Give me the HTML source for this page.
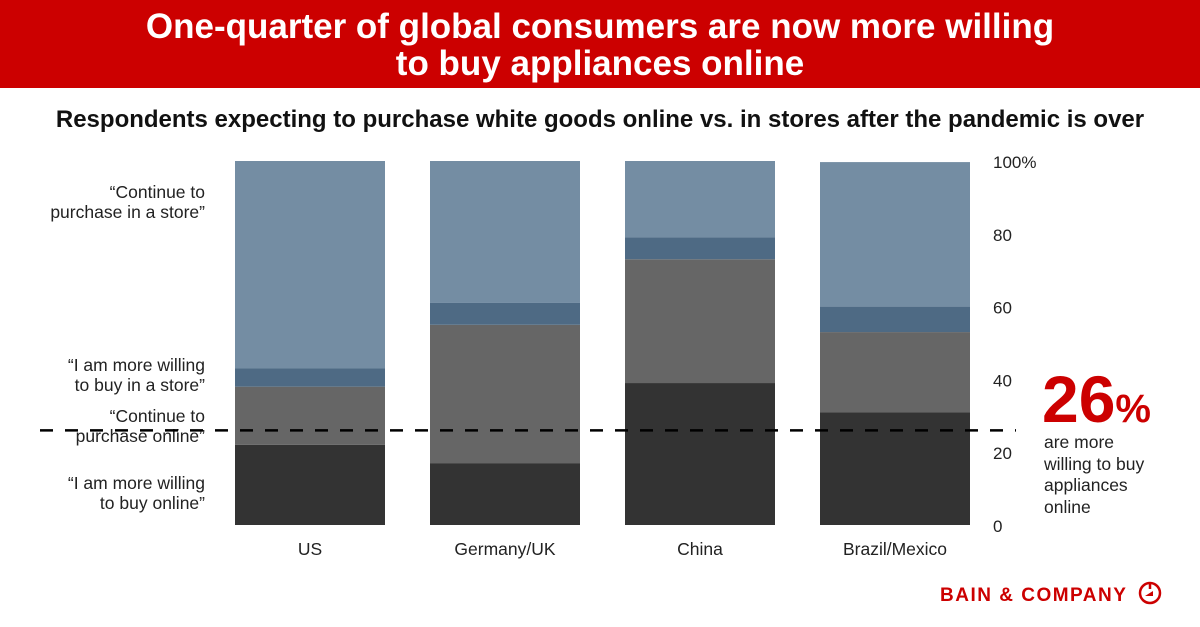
<!DOCTYPE html>
<html><head><meta charset="utf-8"><style>
body{margin:0;width:1200px;height:627px;background:#fff;font-family:"Liberation Sans",sans-serif;overflow:hidden;position:relative}
#hdr{position:absolute;left:0;top:0;width:1200px;height:88px;background:#cc0000;color:#fff;text-align:center;font-weight:bold;font-size:35px;line-height:37px;padding-top:8px;box-sizing:border-box}
#sub{position:absolute;left:0;top:106px;width:1200px;text-align:center;font-weight:bold;font-size:24px;color:#111;white-space:nowrap}
.lab{position:absolute;right:995px;text-align:right;font-size:17.5px;line-height:20px;color:#222;white-space:nowrap}
#big{position:absolute;left:1042px;top:366px;color:#cc0000;font-weight:bold;font-size:66px;line-height:66px}
#big span{font-size:40px}
#note{position:absolute;left:1044px;top:432px;font-size:17.5px;line-height:21.5px;color:#222}
#logo{position:absolute;left:940px;top:581px;color:#cc0000;font-weight:bold;font-size:19px;letter-spacing:1.5px}
</style></head><body>
<div id="hdr">One-quarter of global consumers are now more willing<br>to buy appliances online</div>
<div id="sub">Respondents expecting to purchase white goods online vs. in stores after the pandemic is over</div>
<div class="lab" style="top:182px">“Continue to<br>purchase in a store”</div>
<div class="lab" style="top:355px">“I am more willing<br>to buy in a store”</div>
<div class="lab" style="top:406px">“Continue to<br>purchase online”</div>
<div class="lab" style="top:473px">“I am more willing<br>to buy online”</div>
<svg id="chart" width="1200" height="627" style="position:absolute;left:0;top:0"></svg>
<div id="big">26<span>%</span></div>
<div id="note">are more<br>willing to buy<br>appliances<br>online</div>
<div id="logo">BAIN &amp; COMPANY <svg width="24" height="24" viewBox="0 0 24 24" style="vertical-align:-4px;margin-left:4px"><circle cx="12" cy="12" r="10" fill="none" stroke="#cc0000" stroke-width="2.5"/><line x1="12" y1="2" x2="12" y2="8" stroke="#cc0000" stroke-width="2.5"/><path d="M7 15 L15 10 L15 15Z" fill="#cc0000"/></svg></div>
<script>
const categories=["US","Germany/UK","China","Brazil/Mexico"];
const moreOnline=[22,17,39,31];
const contOnline=[16,38,34,22];
const moreStore=[5,6,6,7];
const contStore=[57,39,21,39.7];
const ticks=[0,20,40,60,80,100];
const threshold=26;
const svg=document.getElementById('chart');
const NS='http://www.w3.org/2000/svg';
const y0=525,yTop=161;
function y(v){return y0-(y0-yTop)*v/100;}
function bx(i){return 235+i*195;}
const bw=150;
const series=[moreOnline,contOnline,moreStore,contStore];
const colors=['#333333','#666666','#4e6a84','#748da3'];
const snames=['more-online','continue-online','more-store','continue-store'];
categories.forEach((c,i)=>{
  let acc=0;
  series.forEach((s,k)=>{
    const r=document.createElementNS(NS,'rect');
    r.setAttribute('x',bx(i));r.setAttribute('width',bw);
    r.setAttribute('y',y(acc+s[i]));r.setAttribute('height',y(acc)-y(acc+s[i]));
    r.setAttribute('fill',colors[k]);
    
    
    svg.appendChild(r);acc+=s[i];
  });
  const t=document.createElementNS(NS,'text');
  t.setAttribute('x',bx(i)+bw/2);t.setAttribute('y',555);t.setAttribute('text-anchor','middle');
  t.setAttribute('font-size','17.5');t.setAttribute('fill','#222');t.textContent=c;
  
  
  svg.appendChild(t);
});
ticks.forEach(v=>{
  const t=document.createElementNS(NS,'text');
  t.setAttribute('x',993);t.setAttribute('y',y(v)+7);
  t.setAttribute('font-size','17');t.setAttribute('fill','#222');t.textContent=v+(v===100?'%':'');
  
  
  svg.appendChild(t);
});
const l=document.createElementNS(NS,'line');
l.setAttribute('x1',40);l.setAttribute('x2',1016);l.setAttribute('y1',y(threshold));l.setAttribute('y2',y(threshold));
l.setAttribute('stroke','#000');l.setAttribute('stroke-width','2.5');l.setAttribute('stroke-dasharray','13 12');


svg.appendChild(l);
</script>
</body></html>
